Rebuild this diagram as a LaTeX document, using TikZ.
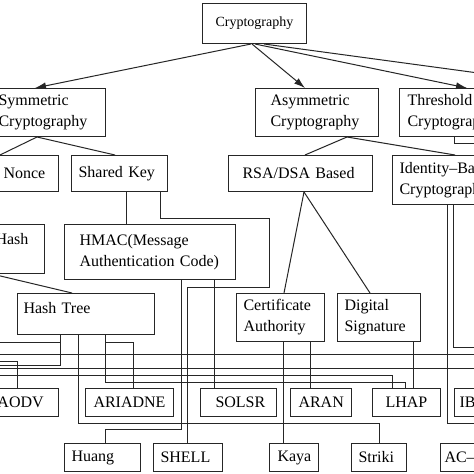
\documentclass[tikz,border=0pt]{standalone}
\usepackage{fontspec}
\setmainfont{Liberation Serif}
\usetikzlibrary{arrows.meta}
\tikzset{
  bx/.style={draw=black!85, line width=1pt, anchor=north west, align=left,
    inner ysep=0pt, font=\fontsize{16}{21}\selectfont},
  wire/.style={draw=black!85, line width=1pt},
  arr/.style={wire, -{Latex[length=11pt,width=7pt]}},
}
% \bbox{name}{x1}{y1}{x2}{y2}{left pad}{extra options}{text}
\newcommand\bbox[8]{%
  \pgfmathsetmacro\bxw{#4-#2-2*#6}%
  \pgfmathsetmacro\bxh{#5-#3}%
  \node[bx, minimum height=\bxh pt, text width=\bxw pt, inner xsep=#6pt, #7] (#1) at (#2,#3) {#8};%
}
\begin{document}
\begin{tikzpicture}[x=1pt,y=-1pt]
\useasboundingbox (0,0) rectangle (474,474);
\fill[white] (0,0) rectangle (474,474);
\clip (0,0) rectangle (474,474);

% boxes
\bbox{crypto}{202}{3}{306}{43}{13}{font=\fontsize{14}{18}\selectfont}{Cryptography}
\bbox{sym}{-10}{88}{105}{136}{8}{}{Symmetric\\Cryptography}
\bbox{asym}{255}{88}{378}{136}{15}{}{Asymmetric\\Cryptography}
\bbox{thr}{399}{88}{560}{136}{8}{}{Threshold\\Cryptography}
\bbox{nonce}{-5}{155}{58}{191}{8}{}{Nonce}
\bbox{shared}{71}{155}{167}{191}{7}{}{Shared Key}
\bbox{rsa}{228}{155}{372}{191}{14}{}{RSA/DSA Based}
\bbox{idb}{392}{155}{560}{204}{7}{}{Identity--Based\\Cryptography}
\bbox{hash}{-12}{224}{44}{273}{7}{}{Hash\\~}
\bbox{hmac}{64}{224}{235}{279}{15}{}{HMAC(Message\\Authentication Code)}
\bbox{hashtree}{17}{293}{154}{334}{6}{text depth=12pt}{Hash Tree}
\bbox{ca}{236}{293}{324}{341}{7}{}{Certificate\\Authority}
\bbox{ds}{337}{293}{420}{341}{7}{}{Digital\\Signature}
\bbox{aodv}{-8}{388}{58}{416}{5}{}{AODV}
\bbox{ariadne}{85}{388}{173}{416}{8}{}{ARIADNE}
\bbox{solsr}{200}{388}{276}{416}{15}{}{SOLSR}
\bbox{aran}{290}{388}{351}{416}{8}{}{ARAN}
\bbox{lhap}{372}{388}{440}{416}{13}{}{LHAP}
\bbox{ib}{454}{388}{560}{416}{5}{}{IB}
\bbox{huang}{64}{443}{140}{471}{7}{}{Huang}
\bbox{shell}{153}{443}{222}{471}{7}{}{SHELL}
\bbox{kaya}{269}{443}{318}{471}{8}{}{Kaya}
\bbox{striki}{351}{443}{406}{471}{7}{}{Striki}
\bbox{ac}{440}{443}{560}{471}{4}{}{AC--}

% off-picture ends
\coordinate (offA) at (600,89.5);
\coordinate (thrR) at (600,143);
\coordinate (L342) at (-20,342);
\coordinate (L361) at (-20,361);
\coordinate (L365) at (-20,365);
\coordinate (L354) at (-20,354);
\coordinate (R354) at (600,354);
\coordinate (L368) at (-20,368);
\coordinate (R368) at (600,368);
\coordinate (L375) at (-20,375);
\coordinate (R347) at (600,347);
\coordinate (R423) at (600,423);

% arrows from the root
\draw[arr] (crypto.south -| 251,0) -- (sym.north -| 35,0);
\draw[arr] (crypto.south -| 252,0) -- (asym.north -| 305,0);
\draw[arr] (crypto.south -| 255,0) -- (thr.north -| 467,0);
\draw[arr] (crypto.south -| 264,0) -- (offA);

% second level
\draw[wire] (sym.south -| 37,0) -- (nonce.north -| 0,0);
\draw[wire] (sym.south -| 37,0) -- (shared.north -| 115,0);
\draw[wire] (asym.south -| 347,0) -- (rsa.north -| 305,0);
\draw[wire] (asym.south -| 347,0) -- (idb.north -| 455,0);
\draw[wire] (thr.south -| 454,0) -- (454,143) -- (thrR);

% third level
\draw[wire] (shared.south -| 126,0) -- (hmac.north -| 126,0);
\draw[wire] (shared.south -| 160,0) -- (160,218) -- (269,218) -- (269,287) -- (187,287) -- (shell.north -| 187,0);
\draw[wire] (rsa.south -| 304,0) -- (ca.north -| 284,0);
\draw[wire] (rsa.south -| 304,0) -- (ds.north -| 370,0);
\draw[wire] (hash.south -| -8,0) -- (hashtree.north -| 72,0);

% lower wiring
\draw[wire] (hmac.south -| 181,0) -- (181,429) -- (105,429) -- (huang.north -| 105,0);
\draw[wire] (hmac.south -| 214,0) -- (solsr.north -| 214,0);
\draw[wire] (ca.south -| 283,0) -- (kaya.north -| 283,0);
\draw[wire] (ca.south -| 310,0) -- (aran.north -| 310,0);
\draw[wire] (ds.south -| 413,0) -- (lhap.north -| 413,0);
\draw[wire] (hashtree.south -| 78,0) -- (78,423) -- (379,423) -- (striki.north -| 379,0);
\draw[wire] (hashtree.south -| 105,0) -- (105,342) -- (133,342) -- (ariadne.north -| 133,0);
\draw[wire] (hashtree.south -| 105,0) -- (105,382) -- (405,382) -- (lhap.north -| 405,0);
\draw[wire] (hashtree.south -| 60,0) -- (60,365) -- (L365);
\draw[wire] (L342) -- (60,342);
\draw[wire] (L361) -- (17,361) -- (aodv.north -| 17,0);
\draw[wire] (L354) -- (R354);
\draw[wire] (L368) -- (R368);
\draw[wire] (L375) -- (392,375) -- (lhap.north -| 392,0);
\draw[wire] (idb.south -| 447,0) -- (447,423) -- (R423);
\draw[wire] (idb.south -| 453,0) -- (453,347) -- (R347);
\end{tikzpicture}
\end{document}
